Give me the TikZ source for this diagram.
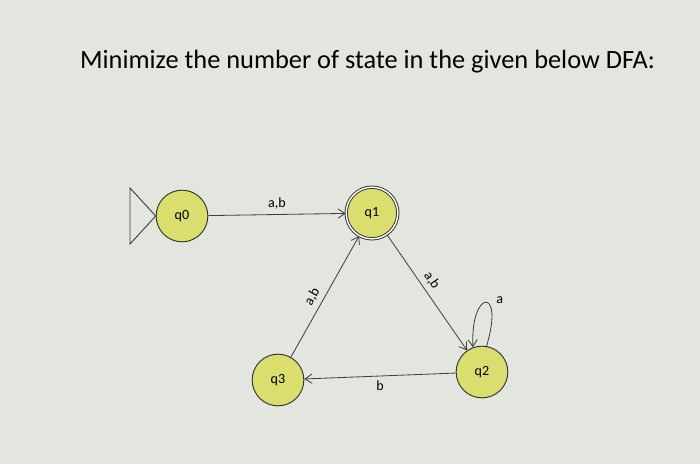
\documentclass[tikz,border=0pt]{standalone}
\usepackage{fontspec}
\setmainfont{Carlito}
\usetikzlibrary{arrows.meta}
\definecolor{bg}{HTML}{E3E5DF}
\definecolor{nodefill}{HTML}{D9DE6E}
\begin{document}
\begin{tikzpicture}[x=0.03cm,y=-0.03cm,
  st/.style={circle,draw=black!80,line width=0.8pt,fill=nodefill,minimum size=1.55cm,inner sep=0pt,font=\fontsize{12}{14}\selectfont},
  acc/.style={st,double,double distance=1.2pt},
  edge/.style={draw=black!75,line width=0.7pt,-{Straight Barb[length=6pt,width=8pt]}},
  lab/.style={font=\fontsize{12}{14}\selectfont,inner sep=4pt}]
\fill[bg] (0,0) rectangle (700,464);
\useasboundingbox (0,0) rectangle (700,464);
\node[anchor=west,font=\fontsize{22.5}{26}\selectfont] (title) at (76,62) {Minimize the number of state in the given below DFA:};
\node[st] (q0) at (182,216) {q0};
\node[acc] (q1) at (372,213) {q1};
\node[st] (q2) at (482,372) {q2};
\node[st] (q3) at (278,380) {q3};
\coordinate (s1) at (130,188);
\coordinate (s2) at (130,244);
\draw[black!75,line width=0.8pt] (s1) -- (q0.west) -- (s2) -- cycle;
\draw[edge] (q0) -- node[lab,above] {a,b} (q1);
\draw[edge] (q3) -- node[lab,sloped,above,pos=0.45] {a,b} (q1);
\draw[edge] (q1) -- node[lab,sloped,above,pos=0.45] {a,b} (q2);
\draw[edge] (q2) -- node[lab,below] {b} (q3);
\draw[edge] (q2.80) .. controls (505,285) and (470,290) .. node[lab,above right,pos=0.3] {a} (q2.110);
\end{tikzpicture}
\end{document}
